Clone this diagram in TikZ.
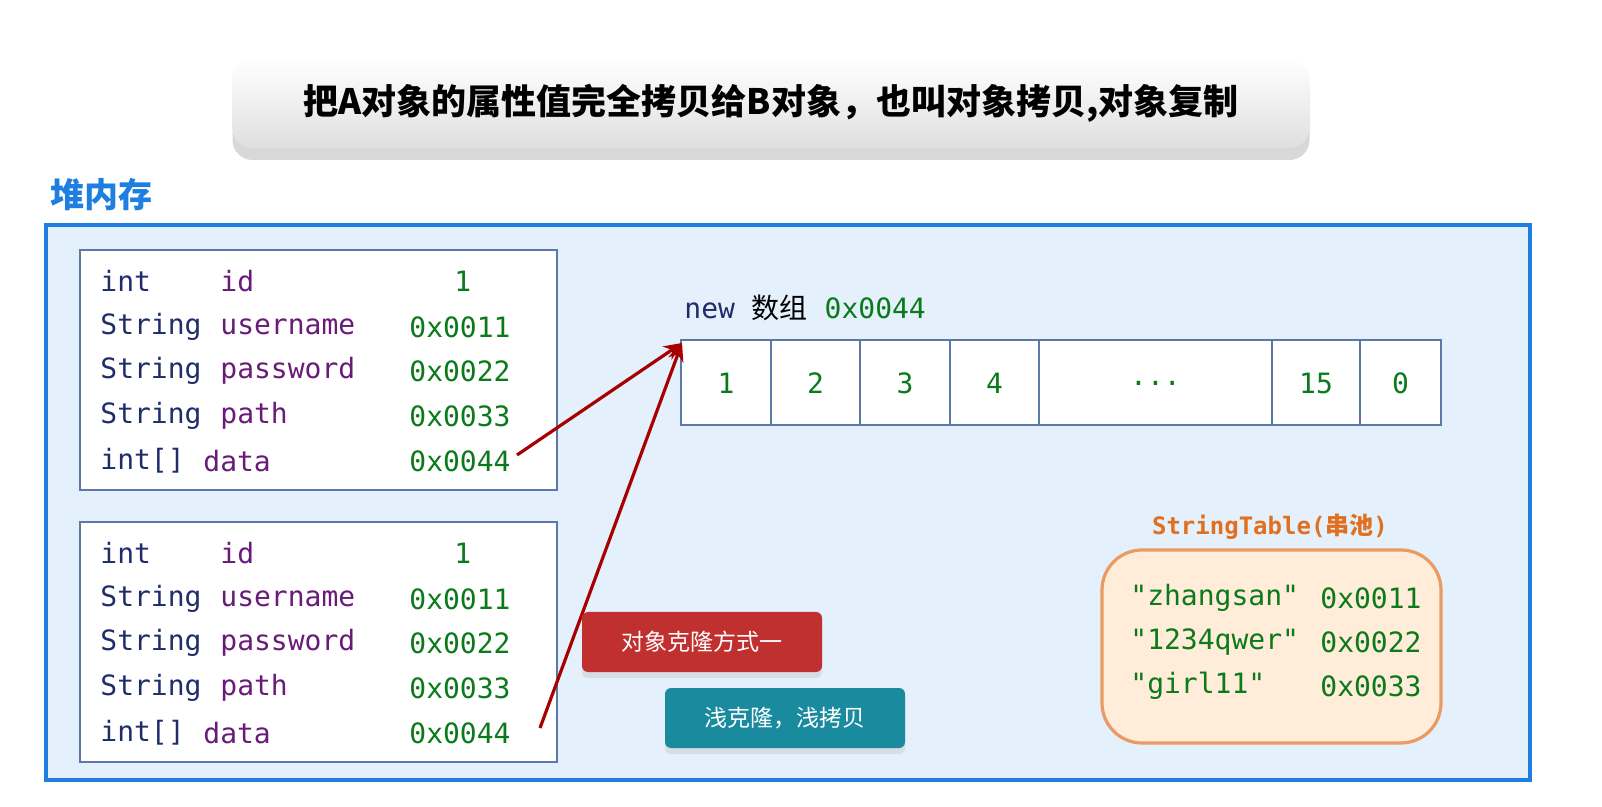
\documentclass[tikz,border=0pt]{standalone}
\usepackage{fontspec}
\setmonofont{DejaVu Sans Mono}
\newfontfamily\cjk{Noto Sans CJK SC}
\usetikzlibrary{arrows.meta,shadows}
\definecolor{tp}{HTML}{1F2D6B}
\definecolor{nm}{HTML}{6A1B7A}
\definecolor{vl}{HTML}{0A7A1A}
\definecolor{heapbg}{HTML}{E4F0FC}
\definecolor{heapbd}{HTML}{1E7FE0}
\definecolor{objbd}{HTML}{5A78A8}
\definecolor{arr}{HTML}{A80000}
\definecolor{orng}{HTML}{E07020}
\definecolor{redbtn}{HTML}{C0302E}
\definecolor{tealbtn}{HTML}{1A8A9E}
\newcommand\mydots{...}
\tikzset{
 mono/.style={font=\ttfamily\fontsize{14}{16}\selectfont, anchor=west, inner sep=0pt},
 obj/.style={draw=objbd, line width=1.2pt, fill=white},
 cell/.style={draw=objbd, line width=1.2pt, fill=white},
 btn/.style={rounded corners=3pt, text=white, font=\cjk\fontsize{11.5}{13}\selectfont, drop shadow={shadow xshift=0pt, shadow yshift=-3pt, fill=gray!40}},
 link/.style={arr, line width=1.6pt, -{Stealth[length=9pt,width=8pt]}}
}
\begin{document}
\begin{tikzpicture}[x=0.5pt,y=-0.5pt]
\useasboundingbox (0,0) rectangle (1602,807);
\fill[white] (0,0) rectangle (1602,807);
\begin{scope}[overlay]
% title
\node[draw=none, rounded corners=10pt, top color=white, bottom color=gray!25, minimum width=538.5pt, minimum height=45pt, drop shadow={shadow xshift=0pt, shadow yshift=-6pt, opacity=0.3}, font=\cjk\bfseries\fontsize{17.5}{20}\selectfont] (title) at (771,103) {把A对象的属性值完全拷贝给B对象，也叫对象拷贝,对象复制};
\node[anchor=west, text=heapbd, font=\cjk\bfseries\fontsize{17}{20}\selectfont, inner sep=0pt] (heap) at (50,195) {堆内存};
\draw[heapbd, line width=1.6pt, fill=heapbg] (46,225) rectangle (1530,780);
% objects
\foreach \oy in {250,522}{
 \draw[obj] (80,\oy) rectangle (557,\oy+240);
}
\foreach \oy/\p in {281/a,553/b}{
 \node[mono,text=tp] (\p t1) at (100,\oy) {int};
 \node[mono,text=nm] (\p n1) at (220,\oy) {id};
 \node[mono,text=vl] (\p v1) at (454,\oy) {1};
 \node[mono,text=tp] (\p t2) at (100,\oy+46) {String};
 \node[mono,text=nm] (\p n2) at (220,\oy+46) {username};
 \node[mono,text=vl] (\p v2) at (409,\oy+46) {0x0011};
 \node[mono,text=tp] (\p t3) at (100,\oy+90) {String};
 \node[mono,text=nm] (\p n3) at (220,\oy+90) {password};
 \node[mono,text=vl] (\p v3) at (409,\oy+90) {0x0022};
 \node[mono,text=tp] (\p t4) at (100,\oy+135) {String};
 \node[mono,text=nm] (\p n4) at (220,\oy+135) {path};
 \node[mono,text=vl] (\p v4) at (409,\oy+135) {0x0033};
 \node[mono,text=tp] (\p t5) at (100,\oy+180) {int[]};
 \node[mono,text=nm] (\p n5) at (203,\oy+180) {data};
 \node[mono,text=vl] (\p v5) at (409,\oy+180) {0x0044};
}
% array
\node[mono,text=tp] (newlbl) at (684,308) {new \textcolor{black}{\cjk 数组} \textcolor{vl}{0x0044}};
\foreach \a/\b/\t/\n in {681/771/1/c1,771/860/2/c2,860/950/3/c3,950/1039/4/c4,1039/1272/\mydots/c5,1272/1360/15/c6,1360/1441/0/c7}{
 \draw[cell] (\a,340) rectangle (\b,425);
 \node[mono,anchor=center,text=vl] (\n) at ({(\a+\b)/2},383) {\t};
}
\coordinate (arrtop) at (682,343);
\coordinate (s1) at (517,455);
\coordinate (s2) at (540,728);
\draw[link] (s1) -- (arrtop);
\draw[link] (s2) -- (arrtop);
% buttons
\node[btn, fill=redbtn, minimum width=120pt, minimum height=30pt] (b1) at (702,642) {对象克隆方式一};
\node[btn, fill=tealbtn, minimum width=120pt, minimum height=30pt] (b2) at (785,718) {浅克隆，浅拷贝};
% string table
\node[mono, anchor=center, text=orng, font=\ttfamily\bfseries\fontsize{12}{14}\selectfont] (stl) at (1270,527) {StringTable({\cjk 串池})};
\draw[orng!70, line width=1.6pt, fill=orange!15, rounded corners=20pt] (1102,550) rectangle (1441,743);
\node[mono,text=vl] (s1a) at (1130,598) {"zhangsan"};
\node[mono,text=vl] (s1b) at (1320,598) {0x0011};
\node[mono,text=vl] (s2a) at (1130,642) {"1234qwer"};
\node[mono,text=vl] (s2b) at (1320,642) {0x0022};
\node[mono,text=vl] (s3a) at (1130,686) {"girl11"};
\node[mono,text=vl] (s3b) at (1320,686) {0x0033};
\end{scope}
\end{tikzpicture}
\end{document}
